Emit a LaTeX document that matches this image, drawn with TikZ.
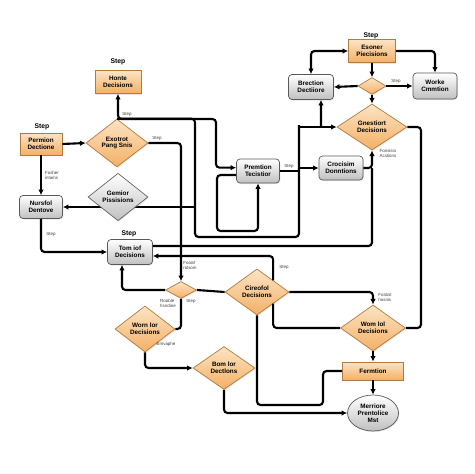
\documentclass[tikz,border=0pt]{standalone}
\usepackage{fontspec}
\setmainfont{Liberation Sans}
\usepackage{xcolor}
\usetikzlibrary{arrows.meta,positioning,shapes,shadows,backgrounds}
\definecolor{oline}{HTML}{B27A3E}
\definecolor{otop}{HTML}{FCE4C4}
\definecolor{obot}{HTML}{F4B066}
\definecolor{gbot}{HTML}{C0C0C0}

\begin{document}
\begin{tikzpicture}[x=0.03cm, y=-0.03cm, >={Latex[length=4.8pt,width=4.8pt]},
  every node/.style={font=\bfseries\fontsize{5.4}{5.9}\selectfont, align=center, inner sep=1pt},
  obox/.style={rectangle, draw=oline, line width=0.6pt, top color=otop, bottom color=obot,
    drop shadow={opacity=0.2, shadow xshift=0.7pt, shadow yshift=-0.9pt}},
  gbox/.style={rectangle, rounded corners=3pt, draw=black!65, line width=0.6pt, top color=white, bottom color=gbot,
    drop shadow={opacity=0.2, shadow xshift=0.7pt, shadow yshift=-0.9pt}},
  odia/.style={diamond, draw=oline, line width=0.6pt, top color=otop, bottom color=obot,
    drop shadow={opacity=0.2, shadow xshift=0.7pt, shadow yshift=-0.9pt}},
  gdia/.style={diamond, draw=black!60, line width=0.6pt, top color=white, bottom color=gbot,
    drop shadow={opacity=0.2, shadow xshift=0.7pt, shadow yshift=-0.9pt}},
  head/.style={font=\bfseries\fontsize{5.8}{6.2}\selectfont},
  note/.style={font=\fontsize{3.8}{4.2}\selectfont, text=black!75, align=left},
  link/.style={line width=1.8pt, rounded corners=3pt}]
  \useasboundingbox (0,0) rectangle (474,474);

  % boxes and diamonds
  \node[obox, minimum width=1.38cm, minimum height=0.69cm] (a) at (118,82) {Honte\\Decisions};
  \node[obox, minimum width=1.26cm, minimum height=0.66cm] (b) at (41,144) {Permion\\Dectione};
  \node[odia, minimum width=1.86cm, minimum height=0.99cm] (c) at (117,143) {Exotrot\\Pang Snis};
  \node[gbox, minimum width=1.29cm, minimum height=0.69cm] (d) at (41,207) {Nursfol\\Dentove};
  \node[gdia, minimum width=1.80cm, minimum height=0.90cm] (e) at (118,197) {Gemior\\Pissisions};
  \node[gbox, minimum width=1.35cm, minimum height=0.75cm] (f) at (130,252) {Tom iof\\Decisions};
  \node[gbox, minimum width=1.29cm, minimum height=0.72cm] (g) at (258,171) {Premtion\\Tecistior};
  \node[gbox, minimum width=1.35cm, minimum height=0.75cm] (h) at (311,87) {Brection\\Dectiiore};
  \node[obox, minimum width=1.41cm, minimum height=0.69cm] (i) at (372,51) {Esoner\\Piecisions};
  \node[odia, minimum width=0.84cm, minimum height=0.51cm] (j) at (372,86) {};
  \node[gbox, minimum width=1.32cm, minimum height=0.78cm] (k) at (435,86) {Worke\\Cmmtion};
  \node[odia, minimum width=2.10cm, minimum height=1.11cm] (l) at (372,127) {Gnestiort\\Decisions};
  \node[gbox, minimum width=1.32cm, minimum height=0.72cm] (m) at (341,168) {Crocisim\\Donntions};
  \node[odia, minimum width=1.92cm, minimum height=1.05cm] (n) at (257,292) {Cireofol\\Decisions};
  \node[odia, minimum width=1.95cm, minimum height=0.93cm] (o) at (373,328) {Wom lol\\Decisions};
  \node[obox, minimum width=1.83cm, minimum height=0.54cm] (p) at (373,371) {Fermtion};
  \node[ellipse, draw=black!65, line width=0.6pt, top color=white, bottom color=gbot,
    drop shadow={opacity=0.2, shadow xshift=0.7pt, shadow yshift=-0.9pt},
    minimum width=1.53cm, minimum height=1.08cm] (q) at (373,413) {Merriore\\Prentolice\\Mst};
  \node[odia, minimum width=0.93cm, minimum height=0.51cm] (r) at (181,290) {};
  \node[odia, minimum width=1.80cm, minimum height=0.96cm] (s) at (145,329) {Worn lor\\Decisions};
  \node[odia, minimum width=1.86cm, minimum height=0.99cm] (t) at (224,368) {Bom lor\\Dectlons};

  % labels
  \node[head] (s1) at (118,62) {Step};
  \node[head] (s2) at (42,127) {Step};
  \node[head] (s3) at (371,36) {Step};
  \node[head] (s4) at (129,234) {Step};
  \node[note] (n1) at (127,114) {Step};
  \node[note] (n2) at (157,138) {Step};
  \node[note] (n3) at (289,166) {Step};
  \node[note] (n4) at (396,81) {Step};
  \node[note] (n5) at (51,234) {Step};
  \node[note] (n6) at (284,267) {Step};
  \node[note] (n7) at (191,301) {Step};
  \node[note] (n8) at (52,175) {Fosher\\intams};
  \node[note] (n9) at (190,265) {Fooisf\\rolsom};
  \node[note] (n10) at (168,303) {Rooble\\hsndine};
  \node[note] (n11) at (166,344) {Emvaphe};
  \node[note] (n12) at (388,153) {Fonsisio\\Acstions};
  \node[note] (n13) at (385,297) {Fosbst\\hosnis};

  % connectors
  \begin{pgfonlayer}{background}
    \draw[link, ->] (195,207) -- (d.east);
  \end{pgfonlayer}
  \draw[link, ->] (b.east) -- (c.west);
  \draw[link, ->] (b.south) -- (d.north);
  \draw[link, ->] (d.south) |- (f.west);
  \draw[link, <->] (a.south) |- (216,119) |- ([yshift=0.1cm]g.west);
  \draw[link] (c.north) -| (195,237) -| (299,125);
  \draw[link] (g.east) -- (299,171);
  \draw[link, ->] (299,127) -- (l.west);
  \draw[link, ->] (321,127) -- ([xshift=0.3cm]h.south);
  \draw[link, ->] (299,168) -- (m.west);
  \draw[link, ->] ([yshift=-0.12cm]g.west) -| (217,231) -| (g.south);
  \draw[link, ->] (m.east) -| (l.south);
  \draw[link] (372,168) |- ([yshift=0.18cm]f.east);
  \draw[link, ->] (n.north east) |- ([yshift=-0.12cm]f.east);
  \draw[link, ->] (n.east) -| (o.north);
  \draw[link] (n.south east) |- (o.west);
  \draw[link] (n.south) |- (323,405) |- (p.west);
  \draw[link] (l.east) -| (421,250) |- (o.east);
  \draw[link, ->] (o.south) -- (p.north);
  \draw[link, ->] (p.south) -- (q.north);
  \draw[link, ->] (t.south) |- (q.west);
  \draw[link, ->] (s.south) |- (t.west);
  \draw[link] (r.south) |- (s.east);
  \draw[link, ->] (r.west) -| ([xshift=-0.24cm]f.south);
  \draw[link] (r.east) -- (n.west);
  \draw[link, ->] (c.east) -| (r.north);
  \draw[link, <->] (i.west) -| (h.north);
  \draw[link, ->] (i.east) -| (k.north);
  \draw[link, ->] (i.south) -- (j.north);
  \draw[link, ->] (j.west) -- (h.east);
  \draw[link, ->] (j.east) -- (k.west);
  \draw[link, ->] (j.south) -- (l.north);
\end{tikzpicture}
\end{document}
